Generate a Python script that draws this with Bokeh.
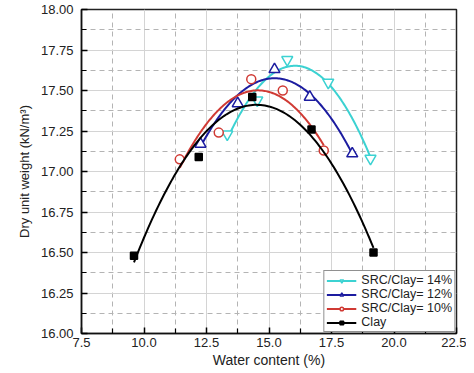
import numpy as np
from bokeh.plotting import figure
from bokeh.models import Legend, LegendItem, FixedTicker
from bokeh.embed import file_html
from bokeh.resources import INLINE

# ---- data ----
clay_x = [9.6, 12.19, 14.33, 16.70, 19.18]
clay_y = [16.48, 17.09, 17.46, 17.26, 16.50]

src10_x = [11.43, 12.99, 14.29, 15.55, 17.19]
src10_y = [17.075, 17.24, 17.57, 17.50, 17.13]

src12_x = [12.26, 13.75, 15.22, 16.63, 18.33]
src12_y = [17.17, 17.42, 17.63, 17.46, 17.11]

src14_x = [13.33, 14.53, 15.73, 17.37, 19.06]
src14_y = [17.23, 17.44, 17.69, 17.55, 17.08]

x_ticks = [7.5, 10.0, 12.5, 15.0, 17.5, 20.0, 22.5]
x_tick_labels = ["7.5", "10.0", "12.5", "15.0", "17.5", "20.0", "22.5"]
y_ticks = [16.0, 16.25, 16.5, 16.75, 17.0, 17.25, 17.5, 17.75, 18.0]
y_tick_labels = ["16.00", "16.25", "16.50", "16.75", "17.00", "17.25", "17.50", "17.75", "18.00"]
x_minor = [8.75, 11.25, 13.75, 16.25, 18.75, 21.25]
y_minor = [16.125, 16.375, 16.625, 16.875, 17.125, 17.375, 17.625, 17.875]

series = [
    ("SRC/Clay= 14%", src14_x, src14_y, "#3cd2d2", "inverted_triangle", 11, "white"),
    ("SRC/Clay= 12%", src12_x, src12_y, "#1c1ca0", "triangle", 11, "white"),
    ("SRC/Clay= 10%", src10_x, src10_y, "#d03a34", "circle", 9, "white"),
    ("Clay", clay_x, clay_y, "#000000", "square", 7, "#000000"),
]

FONT = "Liberation Sans"

p = figure(width=466, height=370, x_range=(7.5, 22.5), y_range=(16.0, 18.0),
           output_backend="svg", toolbar_location=None,
           min_border_left=81, min_border_right=10, min_border_top=9, min_border_bottom=36)

p.background_fill_color = "white"
p.border_fill_color = "white"
p.outline_line_color = "#222222"
p.outline_line_width = 1.5

for ax, ticks, labels, minor in ((p.xaxis[0], x_ticks, x_tick_labels, x_minor),
                                 (p.yaxis[0], y_ticks, y_tick_labels, y_minor)):
    ax.ticker = FixedTicker(ticks=ticks, minor_ticks=minor)
    ax.major_label_overrides = {t: l for t, l in zip(ticks, labels)}
    ax.major_tick_in = 6
    ax.major_tick_out = 0
    ax.minor_tick_in = 5
    ax.minor_tick_out = 0
    ax.axis_line_width = 1.5
    ax.axis_line_color = "#111111"
    ax.major_tick_line_width = 1.5
    ax.minor_tick_line_width = 1.2
    ax.major_label_text_font = FONT
    ax.major_label_text_font_size = "13px"
    ax.major_label_text_color = "#222222"
    ax.axis_label_text_font = FONT
    ax.axis_label_text_font_style = "normal"
    ax.axis_label_text_color = "#222222"

p.xaxis.axis_label = "Water content (%)"
p.xaxis.axis_label_text_font_size = "14px"
p.xaxis.major_label_standoff = 4
p.xaxis.axis_label_standoff = 2
p.yaxis.axis_label = "Dry unit weight (kN/m³)"
p.yaxis.axis_label_text_font_size = "13px"
p.yaxis.major_label_standoff = 8
p.yaxis.axis_label_standoff = 6

for g in (p.xgrid[0], p.ygrid[0]):
    g.grid_line_color = "#d4d4d4"
    g.grid_line_width = 1
    g.minor_grid_line_color = "#b4b4b4"
    g.minor_grid_line_dash = "5 4"
    g.minor_grid_line_width = 1

items = []
for name, xs, ys, color, marker, size, fill in series:
    coef = np.polyfit(xs, ys, 2)
    fx = np.linspace(min(xs), max(xs), 120)
    fy = np.polyval(coef, fx)
    line = p.line(fx, fy, line_color=color, line_width=2)
    sc = p.scatter(xs, ys, marker=marker, size=size, line_color=color,
                   fill_color=fill, line_width=1.5)
    items.append(LegendItem(label=name, renderers=[line, sc]))

legend = Legend(items=items, location="bottom_right")
legend.label_text_font = FONT
legend.label_text_font_size = "12.5px"
legend.label_text_color = "#222222"
legend.glyph_width = 30
legend.glyph_height = 9
legend.label_height = 9
legend.label_standoff = 5
legend.spacing = 0
legend.padding = 2
legend.margin = 1
legend.border_line_color = "#222222"
legend.border_line_width = 1
legend.background_fill_alpha = 1
p.add_layout(legend)

open("out.html", "w").write(file_html(p, INLINE))
